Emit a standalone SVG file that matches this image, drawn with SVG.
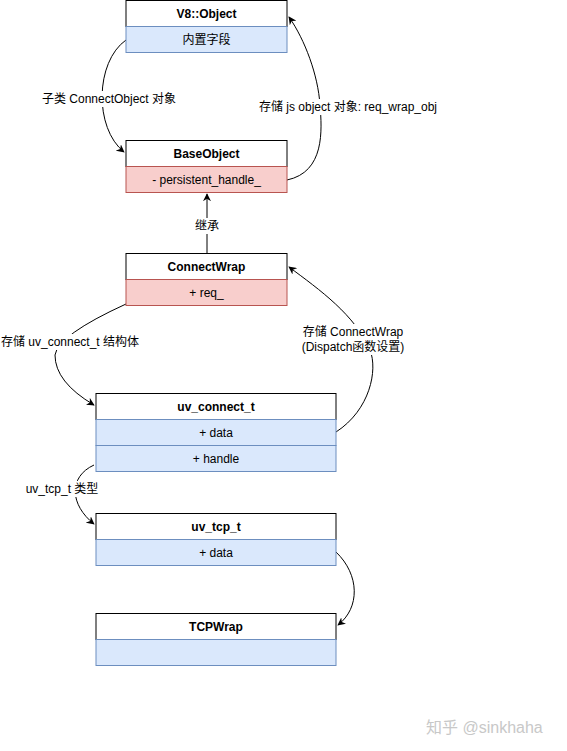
<svg xmlns="http://www.w3.org/2000/svg" width="567" height="751" viewBox="0 0 567 751">
<style>
text{font-family:"Liberation Sans","Noto Sans CJK SC",sans-serif;font-size:12px;fill:#000;text-anchor:middle;dominant-baseline:central}
.h{font-weight:bold}
.hd{fill:#fff;stroke:#000;stroke-width:1}
.bl{fill:#dae8fc;stroke:#6c8ebf;stroke-width:1}
.pk{fill:#f8cecc;stroke:#b85450;stroke-width:1}
.c{fill:none;stroke:#000;stroke-width:1;marker-end:url(#a)}
.lb{fill:#fff}
.wm{font-size:16px;fill:#c8c8c8;text-anchor:start}
</style>
<defs>
<marker id="a" viewBox="0 0 10 10" refX="9" refY="5" markerWidth="8" markerHeight="8" markerUnits="userSpaceOnUse" orient="auto">
<path d="M0,0 L10,5 L0,10 L3,5 Z" fill="#000"/>
</marker>
</defs>
<rect width="567" height="751" fill="#fff"/>
<g id="connectors">
<path class="c" d="M126,40 C95,62 94,128 124,152"/>
<path class="c" d="M287,180 C325,172 322,130 320,105 C318,75 305,40 289,17"/>
<path class="c" d="M207,253 L207,194"/>
<path class="c" d="M126,304 Q58,335 55,355 Q55,382 94,405"/>
<path class="c" d="M336,432 C370,410 378,370 370,350 C355,315 320,290 289,267"/>
<path class="c" d="M94,465 C68,477 70,505 94,524"/>
<path class="c" d="M336,552 C360,575 360,608 338,625"/>
<rect class="lb" x="42" y="91" width="134" height="16"/>
<text x="109" y="99">子类 ConnectObject 对象</text>
<rect class="lb" x="258" y="99" width="180" height="16"/>
<text x="348" y="107">存储 js object 对象: req_wrap_obj</text>
<rect class="lb" x="194" y="218" width="26" height="16"/>
<text x="207" y="226">继承</text>
<rect class="lb" x="1" y="334" width="138" height="16"/>
<text x="70" y="342">存储 uv_connect_t 结构体</text>
<rect class="lb" x="301" y="324" width="104" height="31"/>
<text x="353" y="332">存储 ConnectWrap</text>
<text x="353" y="347">(Dispatch函数设置)</text>
<rect class="lb" x="25" y="481" width="75" height="16"/>
<text x="62" y="489">uv_tcp_t 类型</text>
</g>
<g id="v8object">
<rect class="hd" x="126" y="0.5" width="161" height="26"/>
<text class="h" x="206.5" y="14">V8::Object</text>
<rect class="bl" x="126" y="26.5" width="161" height="26"/>
<text x="206.5" y="40">内置字段</text>
</g>
<g id="baseobject">
<rect class="hd" x="126" y="140.5" width="161" height="26"/>
<text class="h" x="206.5" y="154">BaseObject</text>
<rect class="pk" x="126" y="166.5" width="161" height="26"/>
<text x="206.5" y="180">- persistent_handle_</text>
</g>
<g id="connectwrap">
<rect class="hd" x="126" y="253.5" width="161" height="26"/>
<text class="h" x="206.5" y="267">ConnectWrap</text>
<rect class="pk" x="126" y="279.5" width="161" height="26"/>
<text x="206.5" y="293">+ req_</text>
</g>
<g id="uvconnect">
<rect class="hd" x="96" y="393.5" width="240" height="26"/>
<text class="h" x="216" y="407">uv_connect_t</text>
<rect class="bl" x="96" y="419.5" width="240" height="26"/>
<text x="216" y="433">+ data</text>
<rect class="bl" x="96" y="445.5" width="240" height="26"/>
<text x="216" y="459">+ handle</text>
</g>
<g id="uvtcp">
<rect class="hd" x="96" y="513.5" width="240" height="26"/>
<text class="h" x="216" y="527">uv_tcp_t</text>
<rect class="bl" x="96" y="539.5" width="240" height="26"/>
<text x="216" y="553">+ data</text>
</g>
<g id="tcpwrap">
<rect class="hd" x="96" y="613.5" width="240" height="26"/>
<text class="h" x="216" y="627">TCPWrap</text>
<rect class="bl" x="96" y="639.5" width="240" height="26"/>
</g>
<text class="wm" x="426" y="727">知乎 @sinkhaha</text>
</svg>
